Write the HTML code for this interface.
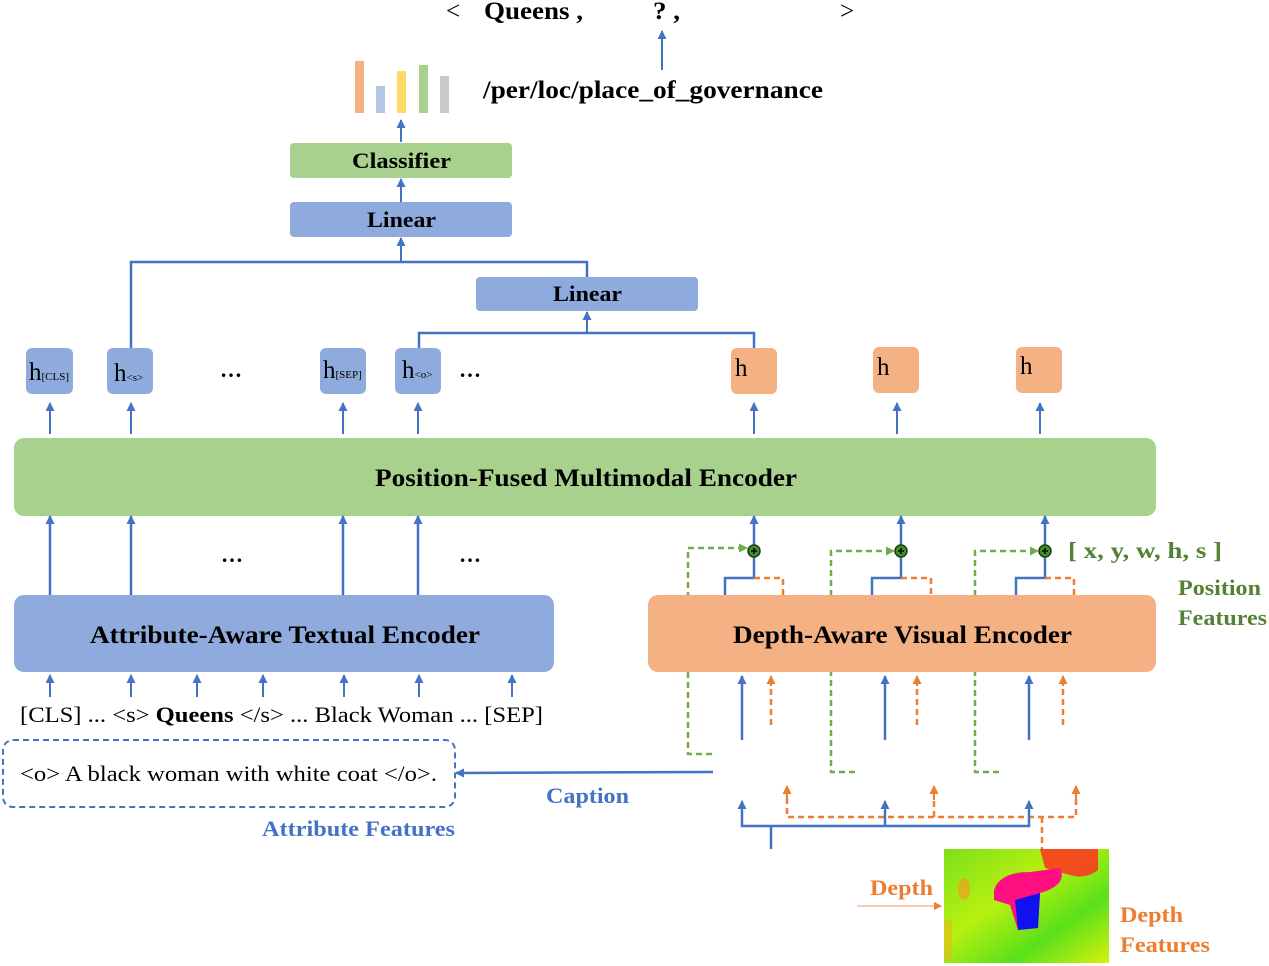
<!DOCTYPE html>
<html><head><meta charset="utf-8"><style>
html,body{margin:0;padding:0;background:#fff}
svg{display:block}
text{font-family:"Liberation Serif",serif}
</style></head><body>
<svg width="1269" height="966" viewBox="0 0 1269 966" xmlns="http://www.w3.org/2000/svg">
<defs>
<marker id="ab" markerWidth="9" markerHeight="9" refX="8" refY="4.5" orient="auto" markerUnits="userSpaceOnUse" viewBox="0 0 9 9"><path d="M0,0 L9,4.5 L0,9 z" fill="#4472C4"/></marker>
<marker id="ao" markerWidth="9" markerHeight="9" refX="8" refY="4.5" orient="auto" markerUnits="userSpaceOnUse" viewBox="0 0 9 9"><path d="M0,0 L9,4.5 L0,9 z" fill="#ED7D31"/></marker>
<marker id="ag" markerWidth="9" markerHeight="9" refX="8" refY="4.5" orient="auto" markerUnits="userSpaceOnUse" viewBox="0 0 9 9"><path d="M0,0 L9,4.5 L0,9 z" fill="#70AD47"/></marker>
<marker id="aor" markerWidth="8" markerHeight="8" refX="7" refY="4" orient="auto" markerUnits="userSpaceOnUse" viewBox="0 0 8 8"><path d="M0,0 L8,4 L0,8 z" fill="#ED7D31"/></marker>
<linearGradient id="dg" x1="0" y1="0" x2="1" y2="1">
<stop offset="0" stop-color="#7CE01A"/><stop offset="0.4" stop-color="#B8F010"/><stop offset="0.7" stop-color="#5AE01A"/><stop offset="1" stop-color="#D8F010"/></linearGradient>
</defs>

<!-- top -->
<g font-size="25">
<text x="446" y="19">&lt;</text>
<text x="484" y="19" font-weight="bold" textLength="99" lengthAdjust="spacingAndGlyphs">Queens ,</text>
<text x="653" y="19" font-weight="bold" textLength="27" lengthAdjust="spacingAndGlyphs">? ,</text>
<text x="840" y="19">&gt;</text>
<text x="483" y="98" font-weight="bold" textLength="340" lengthAdjust="spacingAndGlyphs">/per/loc/place_of_governance</text>
</g>
<line x1="662" y1="70" x2="662" y2="31" stroke="#4472C4" stroke-width="2" marker-end="url(#ab)"/>
<rect x="355" y="61" width="9" height="52" fill="#F4B183"/>
<rect x="376" y="86" width="9" height="27" fill="#B4C7E7"/>
<rect x="397" y="71" width="9" height="42" fill="#FFD966"/>
<rect x="419" y="65" width="9" height="48" fill="#A9D18E"/>
<rect x="440" y="76" width="9" height="37" fill="#C9C9C9"/>

<line x1="401" y1="142" x2="401" y2="120" stroke="#4472C4" stroke-width="2" marker-end="url(#ab)"/>
<rect x="290" y="143" width="222" height="35" rx="4" fill="#A9D18E"/>
<text x="352" y="168" font-size="22" font-weight="bold" textLength="99" lengthAdjust="spacingAndGlyphs">Classifier</text>
<line x1="401" y1="202" x2="401" y2="179" stroke="#4472C4" stroke-width="2" marker-end="url(#ab)"/>
<rect x="290" y="202" width="222" height="35" rx="4" fill="#8FAADC"/>
<text x="367" y="227" font-size="22" font-weight="bold" textLength="69" lengthAdjust="spacingAndGlyphs">Linear</text>
<polyline points="131,348 131,262 587,262 587,277" fill="none" stroke="#4472C4" stroke-width="2.5"/>
<line x1="401" y1="262" x2="401" y2="238" stroke="#4472C4" stroke-width="2" marker-end="url(#ab)"/>
<rect x="476" y="277" width="222" height="34" rx="4" fill="#8FAADC"/>
<text x="553" y="301" font-size="22" font-weight="bold" textLength="69" lengthAdjust="spacingAndGlyphs">Linear</text>
<polyline points="419,348 419,333 754,333 754,348" fill="none" stroke="#4472C4" stroke-width="2.5"/>
<line x1="587" y1="333" x2="587" y2="312" stroke="#4472C4" stroke-width="2" marker-end="url(#ab)"/>

<!-- h boxes -->
<g fill="#8FAADC">
<rect x="26" y="348" width="47" height="46" rx="6"/>
<rect x="107" y="348" width="46" height="46" rx="6"/>
<rect x="320" y="348" width="46" height="46" rx="6"/>
<rect x="395" y="348" width="46" height="46" rx="6"/>
</g>
<g fill="#F4B183">
<rect x="731" y="348" width="46" height="46" rx="6"/>
<rect x="873" y="347" width="46" height="46" rx="6"/>
<rect x="1016" y="347" width="46" height="46" rx="6"/>
</g>
<g font-size="25">
<text x="29" y="380">h<tspan font-size="11">[CLS]</tspan></text>
<text x="114" y="381">h<tspan font-size="11">&lt;s&gt;</tspan></text>
<text x="323" y="378">h<tspan font-size="11">[SEP]</tspan></text>
<text x="402" y="378">h<tspan font-size="11">&lt;o&gt;</tspan></text>
<text x="735" y="376">h</text>
<text x="877" y="375">h</text>
<text x="1020" y="374">h</text>
</g>
<g font-size="22" font-weight="bold">
<text x="231" y="377" text-anchor="middle">…</text>
<text x="470" y="377" text-anchor="middle">…</text>
<text x="232" y="562" text-anchor="middle">…</text>
<text x="470" y="562" text-anchor="middle">…</text>
</g>
<g stroke="#4472C4" stroke-width="2" marker-end="url(#ab)">
<line x1="50" y1="434" x2="50" y2="403"/>
<line x1="131" y1="434" x2="131" y2="403"/>
<line x1="343" y1="434" x2="343" y2="403"/>
<line x1="418" y1="434" x2="418" y2="403"/>
<line x1="754" y1="434" x2="754" y2="403"/>
<line x1="897" y1="434" x2="897" y2="403"/>
<line x1="1040" y1="434" x2="1040" y2="403"/>
</g>

<rect x="14" y="438" width="1142" height="78" rx="10" fill="#A9D18E"/>
<text x="375" y="486" font-size="25" font-weight="bold" textLength="422" lengthAdjust="spacingAndGlyphs">Position-Fused Multimodal Encoder</text>

<g stroke="#4472C4" stroke-width="2.5" marker-end="url(#ab)">
<line x1="50" y1="595" x2="50" y2="516"/>
<line x1="131" y1="595" x2="131" y2="516"/>
<line x1="343" y1="595" x2="343" y2="516"/>
<line x1="418" y1="595" x2="418" y2="516"/>
<line x1="754" y1="545" x2="754" y2="516"/>
<line x1="901" y1="545" x2="901" y2="516"/>
<line x1="1045" y1="545" x2="1045" y2="516"/>
</g>
<g fill="none" stroke-width="2.5">
<polyline points="725,595 725,578 754,578 754,557" stroke="#4472C4"/>
<polyline points="872,595 872,578 901,578 901,557" stroke="#4472C4"/>
<polyline points="1016,595 1016,578 1045,578 1045,557" stroke="#4472C4"/>
<polyline points="754,578 783,578 783,595" stroke="#ED7D31" stroke-dasharray="6,4"/>
<polyline points="901,578 931,578 931,595" stroke="#ED7D31" stroke-dasharray="6,4"/>
<polyline points="1045,578 1074,578 1074,595" stroke="#ED7D31" stroke-dasharray="6,4"/>
<polyline points="712,754 688,754 688,548 747,548" stroke="#70AD47" stroke-dasharray="6,4" marker-end="url(#ag)"/>
<polyline points="855,772 831,772 831,551 894,551" stroke="#70AD47" stroke-dasharray="6,4" marker-end="url(#ag)"/>
<polyline points="999,772 975,772 975,551 1038,551" stroke="#70AD47" stroke-dasharray="6,4" marker-end="url(#ag)"/>
</g>
<g fill="#3F8F2A" stroke="#1b3b10" stroke-width="1.5">
<circle cx="754" cy="551" r="6"/><circle cx="901" cy="551" r="6"/><circle cx="1045" cy="551" r="6"/>
</g>
<g stroke="#000" stroke-width="1.5">
<path d="M751,551h6M754,548v6M898,551h6M901,548v6M1042,551h6M1045,548v6"/>
</g>
<text x="1068" y="558" font-size="23" font-weight="bold" fill="#548235" textLength="154" lengthAdjust="spacingAndGlyphs">[ x, y, w, h, s ]</text>
<text x="1178" y="595" font-size="22" font-weight="bold" fill="#548235" textLength="83" lengthAdjust="spacingAndGlyphs">Position</text>
<text x="1178" y="625" font-size="22" font-weight="bold" fill="#548235" textLength="89" lengthAdjust="spacingAndGlyphs">Features</text>

<rect x="14" y="595" width="540" height="77" rx="10" fill="#8FAADC"/>
<text x="90" y="643" font-size="25" font-weight="bold" textLength="390" lengthAdjust="spacingAndGlyphs">Attribute-Aware Textual Encoder</text>
<rect x="648" y="595" width="508" height="77" rx="10" fill="#F4B183"/>
<text x="733" y="643" font-size="25" font-weight="bold" textLength="339" lengthAdjust="spacingAndGlyphs">Depth-Aware Visual Encoder</text>

<g stroke="#4472C4" stroke-width="2" marker-end="url(#ab)">
<line x1="50" y1="697" x2="50" y2="675"/>
<line x1="131" y1="697" x2="131" y2="675"/>
<line x1="197" y1="697" x2="197" y2="675"/>
<line x1="263" y1="697" x2="263" y2="675"/>
<line x1="344" y1="697" x2="344" y2="675"/>
<line x1="419" y1="697" x2="419" y2="675"/>
<line x1="512" y1="697" x2="512" y2="675"/>
</g>
<text x="20" y="722" font-size="22" textLength="523" lengthAdjust="spacingAndGlyphs">[CLS] ... &lt;s&gt; <tspan font-weight="bold">Queens</tspan> &lt;/s&gt; ... Black Woman ... [SEP]</text>

<g stroke-width="2.5" marker-end="url(#ab)" stroke="#4472C4">
<line x1="742" y1="740" x2="742" y2="676"/>
<line x1="885" y1="740" x2="885" y2="676"/>
<line x1="1029" y1="740" x2="1029" y2="676"/>
</g>
<g stroke-width="2.5" stroke="#ED7D31" stroke-dasharray="6,4">
<line x1="771" y1="725" x2="771" y2="684"/>
<line x1="917" y1="725" x2="917" y2="684"/>
<line x1="1063" y1="725" x2="1063" y2="684"/>
</g>
<g stroke-width="2" stroke="#ED7D31" marker-end="url(#ao)">
<line x1="771" y1="686" x2="771" y2="676"/><line x1="917" y1="686" x2="917" y2="676"/><line x1="1063" y1="686" x2="1063" y2="676"/>
</g>

<line x1="713" y1="772" x2="456" y2="773" stroke="#4472C4" stroke-width="2.5" marker-end="url(#ab)"/>
<text x="546" y="803" font-size="22" font-weight="bold" fill="#4472C4" textLength="83" lengthAdjust="spacingAndGlyphs">Caption</text>
<rect x="3" y="740" width="452" height="67" rx="10" fill="none" stroke="#4472C4" stroke-width="2" stroke-dasharray="6,4"/>
<text x="20" y="781" font-size="22" textLength="417" lengthAdjust="spacingAndGlyphs">&lt;o&gt; A black woman with white coat &lt;/o&gt;.</text>
<text x="262" y="836" font-size="22" font-weight="bold" fill="#4472C4" textLength="193" lengthAdjust="spacingAndGlyphs">Attribute Features</text>

<!-- bottom tree -->
<g fill="none" stroke-width="2.5">
<polyline points="787,798 787,817 1076,817 1076,798" stroke="#ED7D31" stroke-dasharray="6,4"/>
<line x1="934" y1="817" x2="934" y2="798" stroke="#ED7D31" stroke-dasharray="6,4"/>
<line x1="1042" y1="817" x2="1042" y2="849" stroke="#ED7D31" stroke-dasharray="6,4"/>
<polyline points="742,810 742,826 1029,826 1029,810" stroke="#4472C4"/>
<line x1="771" y1="826" x2="771" y2="849" stroke="#4472C4"/>
<line x1="885" y1="826" x2="885" y2="810" stroke="#4472C4"/>
</g>
<g stroke-width="2" stroke="#4472C4" marker-end="url(#ab)">
<line x1="742" y1="812" x2="742" y2="801"/><line x1="885" y1="812" x2="885" y2="801"/><line x1="1029" y1="812" x2="1029" y2="801"/>
</g>
<g stroke-width="2" stroke="#ED7D31" marker-end="url(#ao)">
<line x1="787" y1="800" x2="787" y2="786"/><line x1="934" y1="800" x2="934" y2="786"/><line x1="1076" y1="800" x2="1076" y2="786"/>
</g>

<!-- depth image -->
<rect x="944" y="849" width="165" height="114" fill="url(#dg)"/>
<path d="M1040,849 L1098,849 L1098,870 Q1085,880 1070,875 L1045,868 z" fill="#FF3020" opacity="0.85"/>
<path d="M994,890 Q1000,872 1030,872 L1060,868 Q1068,885 1040,893 L1038,928 L1018,930 L1010,905 L994,900 z" fill="#FF1080"/>
<path d="M1015,900 L1040,893 L1038,928 L1018,930 z" fill="#1010F0"/>
<ellipse cx="964" cy="889" rx="6" ry="11" fill="#F0A020" opacity="0.7"/>
<rect x="944" y="920" width="8" height="40" fill="#F0B020" opacity="0.5"/>
<text x="870" y="895" font-size="22" font-weight="bold" fill="#ED7D31" textLength="63" lengthAdjust="spacingAndGlyphs">Depth</text>
<line x1="857" y1="906" x2="941" y2="906" stroke="#F4B183" stroke-width="1.2" marker-end="url(#aor)"/>
<text x="1120" y="922" font-size="22" font-weight="bold" fill="#ED7D31" textLength="63" lengthAdjust="spacingAndGlyphs">Depth</text>
<text x="1120" y="952" font-size="22" font-weight="bold" fill="#ED7D31" textLength="90" lengthAdjust="spacingAndGlyphs">Features</text>
</svg>
</body></html>
